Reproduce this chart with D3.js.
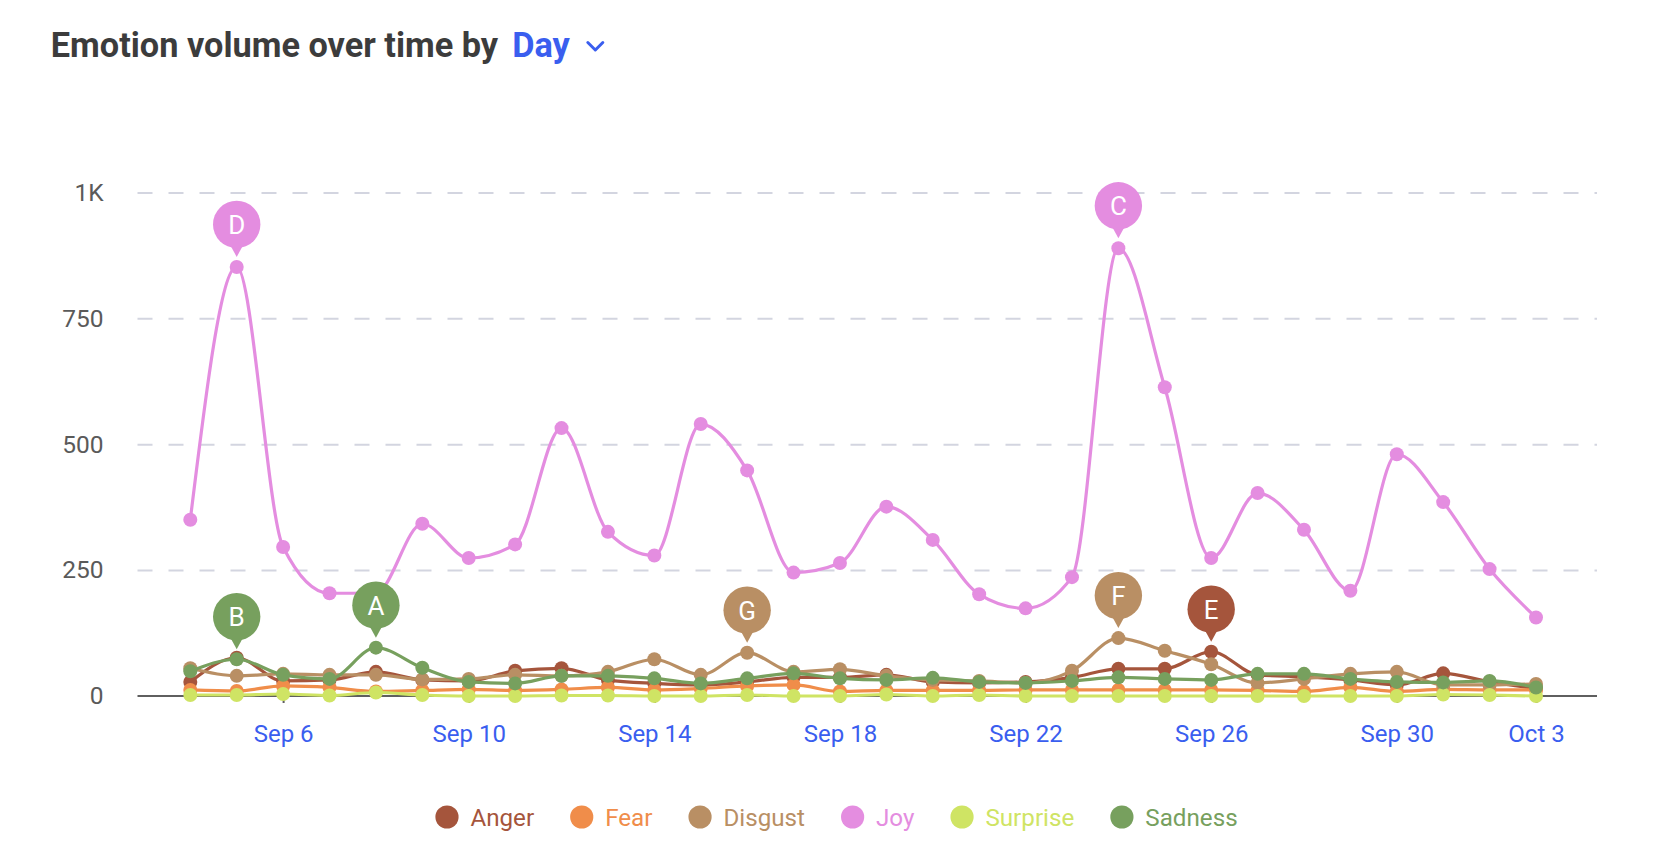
<!DOCTYPE html>
<html>
<head>
<meta charset="utf-8">
<script src="https://cdn.jsdelivr.net/npm/d3@7"></script>
<style>
  html, body { margin: 0; padding: 0; background: #ffffff; }
  svg { display: block; font-family: Roboto, "Noto Sans", sans-serif; }
</style>
</head>
<body>
<svg id="chart" width="1658" height="842"></svg>
<script>
// ---------- data ----------
const days = ["2023-09-04","2023-09-05","2023-09-06","2023-09-07","2023-09-08","2023-09-09","2023-09-10",
  "2023-09-11","2023-09-12","2023-09-13","2023-09-14","2023-09-15","2023-09-16","2023-09-17","2023-09-18",
  "2023-09-19","2023-09-20","2023-09-21","2023-09-22","2023-09-23","2023-09-24","2023-09-25","2023-09-26",
  "2023-09-27","2023-09-28","2023-09-29","2023-09-30","2023-10-01","2023-10-02","2023-10-03"];
const seriesNames = ["Anger","Fear","Disgust","Joy","Surprise","Sadness"];
const seriesColors = ["#a5553c","#f08d4a","#b98f64","#e48de0","#cfe464","#77a05e"];
const anger    = [28,76,30,32,48,32,30,50,55,32,25,22,28,37,37,42,28,26,28,37,54,54,88,42,38,32,22,45,28,15];
const fear     = [12,10,20,17,9,11,13,11,13,17,12,15,20,22,9,11,11,11,12,12,12,12,12,11,9,17,9,13,12,12];
const disgust  = [55,40,44,42,42,33,34,42,40,48,73,42,86,48,53,40,32,30,26,50,115,90,63,26,34,44,48,22,22,24];
const joy      = [350,852,296,204,205,342,274,301,532,326,279,540,448,245,264,376,310,202,174,236,889,613,274,403,330,209,480,385,252,156];
const surprise = [2,2,4,1,7,2,0,0,1,1,0,0,2,0,0,3,0,2,0,0,0,0,0,0,0,0,0,3,2,0];
const sadness  = [49,73,42,34,96,56,28,25,40,40,35,25,35,45,35,32,36,28,26,30,37,34,32,44,44,34,28,27,30,17];
const yTicks = [0,250,500,750,1000];
const yTickLabels = ["0","250","500","750","1K"];
const xTickDays = ["2023-09-06","2023-09-10","2023-09-14","2023-09-18","2023-09-22","2023-09-26","2023-09-30","2023-10-03"];
const xTickLabels = ["Sep 6","Sep 10","Sep 14","Sep 18","Sep 22","Sep 26","Sep 30","Oct 3"];
// annotation flags: letter, series, day
const flagLetters = ["D","C","B","A","G","F","E"];
const flagSeries  = ["Joy","Joy","Sadness","Sadness","Disgust","Disgust","Anger"];
const flagDays    = ["2023-09-05","2023-09-24","2023-09-05","2023-09-08","2023-09-16","2023-09-24","2023-09-26"];

const seriesValues = [anger, fear, disgust, joy, surprise, sadness];
const parse = d3.utcParse("%Y-%m-%d");
const dates = days.map(parse);

// ---------- layout ----------
const svg = d3.select("#chart");
const gridLeft = 137.5, gridRight = 1597;
const x = d3.scaleUtc().domain(d3.extent(dates)).range([190.3, 1536]);
const y = d3.scaleLinear().domain([0, 1000]).range([696, 192.4]);

// title
const title = svg.append("text")
  .attr("x", 50.8).attr("y", 57)
  .attr("font-size", 34.3).attr("font-weight", 700).attr("fill", "#3c3c3c")
  .text("Emotion volume over time by");
const tw = title.node().getComputedTextLength();
const day = svg.append("text")
  .attr("x", 50.8 + tw + 14).attr("y", 57)
  .attr("font-size", 34.3).attr("font-weight", 700).attr("fill", "#3a5eef")
  .text("Day");
const dw = day.node().getComputedTextLength();
const cx0 = 50.8 + tw + 14 + dw + 18;
svg.append("path")
  .attr("d", d3.line()([[cx0, 42.5], [cx0 + 7.5, 50], [cx0 + 15, 42.5]]))
  .attr("fill", "none").attr("stroke", "#3a5eef").attr("stroke-width", 3)
  .attr("stroke-linecap", "round").attr("stroke-linejoin", "round");

// grid
const gridG = svg.append("g")
  .attr("transform", `translate(${gridLeft},0)`)
  .call(d3.axisLeft(y).tickValues(yTicks.filter(v => v > 0)).tickSize(-(gridRight - gridLeft)).tickFormat(""));
gridG.select(".domain").remove();
gridG.selectAll(".tick line").attr("stroke", "#d3d5e0").attr("stroke-width", 2).attr("stroke-dasharray", "15,16");

// y labels
const yAxisG = svg.append("g")
  .attr("transform", `translate(103.6,0)`)
  .call(d3.axisLeft(y).tickValues(yTicks).tickSize(0).tickPadding(0).tickFormat((d, i) => yTickLabels[i]));
yAxisG.select(".domain").remove();
yAxisG.selectAll("text").attr("font-size", 24.5).attr("fill", "#5a5a5a").attr("font-family", "Roboto, sans-serif");

// x axis
svg.append("line").attr("x1", gridLeft).attr("x2", gridRight).attr("y1", y(0)).attr("y2", y(0))
  .attr("stroke", "#5f5f5f").attr("stroke-width", 2);
const xAxisG = svg.append("g")
  .attr("transform", `translate(0,${y(0)})`)
  .call(d3.axisBottom(x).tickValues(xTickDays.map(parse)).tickSize(7).tickPadding(22)
    .tickFormat((d, i) => xTickLabels[i]));
xAxisG.select(".domain").remove();
xAxisG.selectAll(".tick line").attr("stroke", "#5f5f5f").attr("stroke-width", 2);
xAxisG.selectAll("text").attr("font-size", 24).attr("fill", "#3a5eef").attr("font-family", "Roboto, sans-serif");

// series
const line = d3.line().x((d, i) => x(dates[i])).y(d => y(d)).curve(d3.curveMonotoneX);
const plotG = svg.append("g");
seriesNames.forEach((name, si) => {
  const vals = seriesValues[si];
  const g = plotG.append("g");
  g.append("path").datum(vals).attr("d", line)
    .attr("fill", "none").attr("stroke", seriesColors[si]).attr("stroke-width", 3.2)
    .attr("stroke-linejoin", "round");
  g.selectAll("circle").data(vals).join("circle")
    .attr("cx", (d, i) => x(dates[i])).attr("cy", d => y(d)).attr("r", 7)
    .attr("fill", seriesColors[si]);
});

// flags
const flagG = svg.append("g");
flagLetters.forEach((letter, fi) => {
  const si = seriesNames.indexOf(flagSeries[fi]);
  const di = days.indexOf(flagDays[fi]);
  const px = x(dates[di]), py = y(seriesValues[si][di]);
  const cy = py - 42.5, r = 23.7;
  const g = flagG.append("g").attr("transform", `translate(${px},${cy})`);
  g.append("path")
    .attr("d", `M${-9},${16} L0,${32.5} L${9},${16} Z`)
    .attr("fill", seriesColors[si]);
  g.append("circle").attr("r", r).attr("fill", seriesColors[si]);
  g.append("text").attr("text-anchor", "middle").attr("dy", "0.36em")
    .attr("font-size", 26).attr("fill", "#ffffff").text(letter);
});

// legend
const legG = svg.append("g");
let lx = 0;
seriesNames.forEach((name, si) => {
  const item = legG.append("g").attr("transform", `translate(${lx},0)`);
  item.append("circle").attr("cx", 11.6).attr("cy", 0).attr("r", 11.6).attr("fill", seriesColors[si]);
  const t = item.append("text").attr("x", 35).attr("dy", "0.36em")
    .attr("font-size", 24.2).attr("fill", seriesColors[si]).text(name);
  lx += 35 + t.node().getComputedTextLength() + 36;
});
const legW = lx - 36;
legG.attr("transform", `translate(${836.5 - legW / 2},817)`);
</script>
</body>
</html>
